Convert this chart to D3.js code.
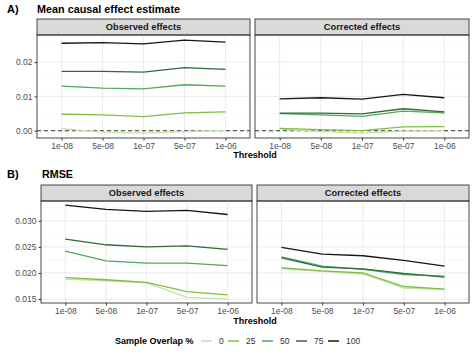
<!DOCTYPE html>
<html><head><meta charset="utf-8">
<script src="https://cdn.jsdelivr.net/npm/d3@7"></script>
<style>body{margin:0;background:#fff}svg{display:block;font-family:"Liberation Sans",Arial,sans-serif}</style>
</head><body><svg id="c" width="474" height="355"></svg>
<script>
const thresholds = ["1e-08","5e-08","1e-07","5e-07","1e-06"];
const overlaps = ["0","25","50","75","100"];
const colors = ["#c3e2a6","#80bd45","#4fa95a","#2c6b38","#0f1a11"];
const facets = ["Observed effects","Corrected effects"];

// Mean causal effect estimate
const meanObserved = [
  [0.0006,-0.0004,-0.0007,-0.0003,0.0001],
  [0.0048,0.0046,0.0041,0.0052,0.0055],
  [0.0130,0.0124,0.0122,0.0134,0.0130],
  [0.0173,0.0173,0.0171,0.0184,0.0179],
  [0.0255,0.0257,0.0253,0.0264,0.0258]
];
const meanCorrected = [
  [0.0005,-0.0003,-0.0007,-0.0001,0.0000],
  [0.0007,0.0003,0.0000,0.0011,0.0012],
  [0.0050,0.0046,0.0042,0.0057,0.0052],
  [0.0051,0.0051,0.0049,0.0064,0.0055],
  [0.0093,0.0096,0.0092,0.0106,0.0096]
];
// RMSE
const rmseObserved = [
  [0.0188,0.0185,0.0181,0.0153,0.0150],
  [0.0191,0.0187,0.0182,0.0164,0.0158],
  [0.0242,0.0223,0.0219,0.0219,0.0214],
  [0.0265,0.0254,0.0250,0.0252,0.0245],
  [0.0330,0.0322,0.0318,0.0320,0.0312]
];
const rmseCorrected = [
  [0.0208,0.0203,0.0198,0.0171,0.0168],
  [0.0210,0.0204,0.0200,0.0174,0.0169],
  [0.0231,0.0213,0.0207,0.0197,0.0194],
  [0.0229,0.0211,0.0208,0.0199,0.0192],
  [0.0249,0.0236,0.0233,0.0224,0.0213]
];
const meanTicks = [0, 0.01, 0.02];
const meanMinor = [0.005, 0.015, 0.025];
const rmseTicks = [0.015, 0.020, 0.025, 0.030];
const rmseMinor = [0.0175, 0.0225, 0.0275, 0.0325];

const svg = d3.select("#c");
const col = d3.scaleOrdinal(overlaps, colors);

function block(cfg) {
  const g = svg.append("g");
  g.append("text").attr("x", 7).attr("y", cfg.titleY).attr("font-size", 11).attr("font-weight", "bold").text(cfg.letter);
  const t = g.append("text").attr("x", cfg.titleX).attr("y", cfg.titleY).attr("font-size", 11).attr("font-weight", "bold").text(cfg.title);
  if (cfg.titleLen) t.attr("textLength", cfg.titleLen).attr("lengthAdjust", "spacingAndGlyphs");
  const y = d3.scaleLinear().domain(cfg.yDomain).range([cfg.bottom, cfg.top]);
  cfg.panels.forEach((p, pi) => {
    const x = d3.scalePoint().domain(thresholds).range([p.x0, p.x1]).padding(0.6);
    const pg = g.append("g");
    // strip
    pg.append("rect").attr("x", p.x0).attr("y", cfg.stripTop).attr("width", p.x1 - p.x0).attr("height", cfg.top - cfg.stripTop)
      .attr("fill", "#d9d9d9").attr("stroke", "#333").attr("stroke-width", 0.9);
    pg.append("text").attr("x", (p.x0 + p.x1) / 2).attr("y", (cfg.stripTop + cfg.top) / 2 + 3.4).attr("text-anchor", "middle")
      .attr("font-size", 9.3).attr("font-weight", "bold").attr("fill", "#1a1a1a").text(facets[pi]);
    // grid
    cfg.minor.forEach(v => pg.append("line").attr("x1", p.x0).attr("x2", p.x1).attr("y1", y(v)).attr("y2", y(v)).attr("stroke", "#f2f2f2").attr("stroke-width", 0.5));
    cfg.ticks.forEach(v => pg.append("line").attr("x1", p.x0).attr("x2", p.x1).attr("y1", y(v)).attr("y2", y(v)).attr("stroke", "#e6e6e6").attr("stroke-width", 0.8));
    thresholds.forEach(t => pg.append("line").attr("x1", x(t)).attr("x2", x(t)).attr("y1", cfg.top).attr("y2", cfg.bottom).attr("stroke", "#e6e6e6").attr("stroke-width", 0.8));
    if (cfg.zeroLine) {
      pg.append("line").attr("x1", p.x0).attr("x2", p.x1).attr("y1", y(0)).attr("y2", y(0)).attr("stroke", "#333").attr("stroke-width", 1.1).attr("stroke-dasharray", "4,3");
    }
    const line = d3.line().x((d, i) => x(thresholds[i])).y(d => y(d));
    p.data.forEach((s, si) => {
      pg.append("path").attr("d", line(s)).attr("fill", "none").attr("stroke", colors[si]).attr("stroke-width", 1.3);
    });
    pg.append("rect").attr("x", p.x0).attr("y", cfg.top).attr("width", p.x1 - p.x0).attr("height", cfg.bottom - cfg.top)
      .attr("fill", "none").attr("stroke", "#333").attr("stroke-width", 0.9);
    // x axis
    const xa = pg.append("g").attr("transform", `translate(0,${cfg.bottom})`).call(d3.axisBottom(x).tickSize(2.5).tickPadding(2));
    xa.select(".domain").remove();
    xa.selectAll("line").attr("stroke", "#333");
    xa.selectAll("text").attr("font-size", 8.5).attr("fill", "#4d4d4d").attr("font-family", "Liberation Sans, Arial, sans-serif");
    if (pi === 0) {
      const ya = pg.append("g").attr("transform", `translate(${p.x0},0)`).call(d3.axisLeft(y).tickValues(cfg.ticks).tickFormat(cfg.fmt).tickSize(2.5).tickPadding(2));
      ya.select(".domain").remove();
      ya.selectAll("line").attr("stroke", "#333");
      ya.selectAll("text").attr("font-size", 8.5).attr("fill", "#4d4d4d").attr("font-family", "Liberation Sans, Arial, sans-serif");
    }
  });
  g.append("text").attr("x", 255).attr("y", cfg.xTitleY).attr("text-anchor", "middle").attr("font-size", 9).attr("font-weight", "bold").text("Threshold");
}

block({
  letter: "A)", title: "Mean causal effect estimate", titleX: 37, titleY: 13, titleLen: 143,
  stripTop: 19, top: 35, bottom: 138, yDomain: [-0.00213, 0.0279],
  ticks: meanTicks, minor: meanMinor, fmt: d3.format(".2f"), zeroLine: true, xTitleY: 158,
  panels: [{x0: 37, x1: 250, data: meanObserved}, {x0: 255, x1: 469, data: meanCorrected}]
});
block({
  letter: "B)", title: "RMSE", titleX: 42, titleY: 178, titleLen: 31,
  stripTop: 185, top: 201, bottom: 303, yDomain: [0.01424, 0.03379],
  ticks: rmseTicks, minor: rmseMinor, fmt: d3.format(".3f"), zeroLine: false, xTitleY: 324,
  panels: [{x0: 41, x1: 252, data: rmseObserved}, {x0: 257, x1: 469, data: rmseCorrected}]
});

// legend
const lg = svg.append("g");
lg.append("text").attr("x", 115).attr("y", 344).attr("font-size", 9).attr("font-weight", "bold").text("Sample Overlap %");
const keyX = [201, 228, 262, 296, 328];
overlaps.forEach((o, i) => {
  lg.append("line").attr("x1", keyX[i]).attr("x2", keyX[i] + 11).attr("y1", 341).attr("y2", 341).attr("stroke", col(o)).attr("stroke-width", 1.5);
  lg.append("text").attr("x", keyX[i] + 18).attr("y", 344).attr("font-size", 8.5).attr("fill", "#333").text(o);
});
</script></body></html>
